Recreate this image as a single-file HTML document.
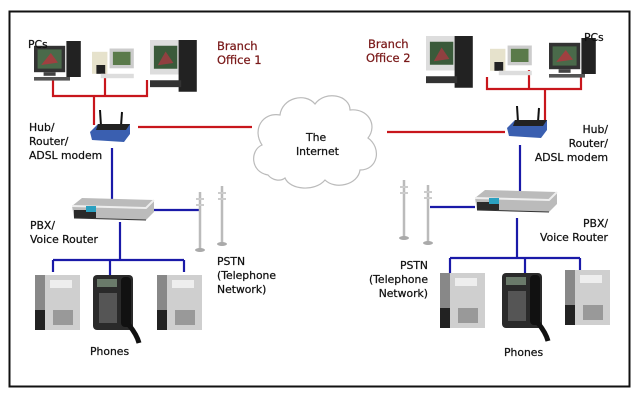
<!DOCTYPE html>
<html><head><meta charset="utf-8"><style>
html,body{margin:0;padding:0;background:#fff;width:640px;height:400px;overflow:hidden}
svg{display:block}
text{font-family:"DejaVu Sans","Liberation Sans",sans-serif;font-size:10.8px;fill:#111;stroke:#111;stroke-width:0.25}
.br{fill:#7a1a1a;stroke:#7a1a1a;font-size:11.5px}
</style></head><body>
<svg width="640" height="400" viewBox="0 0 640 400">
<defs>
<g id="pc">
 <rect x="0" y="4" width="26" height="22" fill="#333"/>
 <rect x="3" y="7" width="20" height="16" fill="#4a6a4a"/>
 <path d="M6 20 L14 10 L20 18 Z" fill="#a04040"/>
 <rect x="27" y="0" width="12" height="30" fill="#222"/>
 <rect x="8" y="26" width="10" height="3" fill="#444"/>
 <rect x="0" y="30" width="30" height="3" fill="#555"/>
</g>
<g id="pcb">
 <rect x="0" y="0" width="32" height="30" fill="#ddd"/>
 <rect x="22" y="0" width="14" height="45" fill="#222"/>
 <rect x="3" y="5" width="18" height="20" fill="#3a5a3a"/>
 <path d="M6 22 L12 10 L18 20 Z" fill="#904040"/>
 <rect x="0" y="35" width="24" height="6" fill="#333"/>
</g>
<g id="pcc">
 <rect x="0" y="8" width="14" height="20" fill="#e6e2cc"/>
 <rect x="16" y="5" width="22" height="18" fill="#ccc"/>
 <rect x="19" y="8" width="16" height="12" fill="#5a7a4a"/>
 <rect x="4" y="20" width="8" height="8" fill="#222"/>
 <rect x="8" y="28" width="30" height="4" fill="#ddd"/>
</g>
<g id="router">
 <line x1="12" y1="0" x2="13" y2="16" stroke="#111" stroke-width="2"/>
 <line x1="34" y1="2" x2="33" y2="16" stroke="#111" stroke-width="2"/>
 <path d="M2 22 L10 14 L42 14 L42 24 L36 32 L4 30 Z" fill="#3a5fb0"/>
 <path d="M10 14 L42 14 L38 20 L8 20 Z" fill="#222"/>
</g>
<g id="pbx">
 <path d="M0 8 L10 0 L82 2 L82 14 L74 22 L2 20 Z" fill="#bbb"/>
 <path d="M0 8 L74 10 L82 2" fill="none" stroke="#eee" stroke-width="2"/>
 <rect x="2" y="12" width="22" height="8" fill="#2a2a2a"/>
 <rect x="14" y="8" width="10" height="6" fill="#2aa0c0"/>
 <line x1="2" y1="20" x2="74" y2="22" stroke="#333"/>
</g>
<g id="pole">
 <line x1="4" y1="0" x2="4" y2="58" stroke="#bbb" stroke-width="2.5"/>
 <rect x="0" y="6" width="8" height="2" fill="#ccc"/><rect x="0" y="12" width="8" height="2" fill="#ccc"/>
 <ellipse cx="4" cy="58" rx="5" ry="2" fill="#aaa"/>
</g>
<g id="phg">
 <rect x="0" y="0" width="45" height="55" fill="#cfcfcf"/>
 <rect x="0" y="0" width="10" height="55" fill="#888"/>
 <rect x="0" y="35" width="10" height="20" fill="#222"/>
 <rect x="15" y="5" width="22" height="8" fill="#eee"/>
 <rect x="18" y="35" width="20" height="15" fill="#999"/>
</g>
<g id="phb">
 <rect x="0" y="0" width="40" height="55" rx="4" fill="#2a2a2a"/>
 <rect x="4" y="4" width="20" height="8" fill="#6a7a6a"/>
 <rect x="28" y="2" width="10" height="50" rx="4" fill="#111"/>
 <rect x="6" y="18" width="18" height="30" fill="#555"/>
 <path d="M36 50 Q44 60 46 68" stroke="#111" stroke-width="5" fill="none"/>
</g>
</defs>
<rect x="9.5" y="11.5" width="620" height="375" fill="none" stroke="#111" stroke-width="2"/>

<!-- LEFT -->
<g stroke="#c8161c" stroke-width="2.2" fill="none">
 <path d="M53 78 V96 H147 V80 M105 73 V96 M94 96 V125 M138 127 H252"/>
</g>
<use href="#pc" transform="translate(34,41) scale(1.2)"/>
<use href="#pcc" transform="translate(92,43) scale(1.1)"/>
<use href="#pcb" transform="translate(150,40) scale(1.3,1.15)"/>
<g stroke="#1a1aa8" stroke-width="2.2" fill="none">
 <path d="M112 148 V200 M153 210 H200 M120 222 V260 M53 260 H184 M53 260 V272 M110 260 V275 M184 260 V272"/>
</g>
<use href="#router" x="88" y="110"/>
<use href="#pbx" x="72" y="198"/>
<use href="#pole" x="196" y="192"/>
<use href="#pole" x="218" y="186"/>
<use href="#phg" x="35" y="275"/>
<use href="#phb" x="93" y="275"/>
<use href="#phg" x="157" y="275"/>
<text x="28" y="48">PCs</text>
<text class="br" x="217" y="50">Branch</text>
<text class="br" x="217" y="64">Office 1</text>
<text x="29" y="131">Hub/</text>
<text x="29" y="145">Router/</text>
<text x="29" y="159">ADSL modem</text>
<text x="30" y="229">PBX/</text>
<text x="30" y="243">Voice Router</text>
<text x="217" y="265">PSTN</text>
<text x="217" y="279">(Telephone</text>
<text x="217" y="293">Network)</text>
<text x="90" y="355">Phones</text>

<!-- CLOUD -->
<path d="M268 175 C250 172 250 150 262 145 C252 130 262 112 280 115 C282 98 305 92 315 104 C325 90 350 95 350 110 C368 108 378 125 368 138 C382 148 378 170 360 170 C358 185 335 190 325 180 C315 192 290 190 285 178 C280 182 272 180 268 175 Z" fill="#fff" stroke="#bbb" stroke-width="1.2"/>
<text x="306" y="141">The</text>
<text x="296" y="155">Internet</text>

<!-- RIGHT -->
<g stroke="#c8161c" stroke-width="2.2" fill="none">
 <path d="M487 77 V89 H581 V75 M529 70 V89 M545 89 V128 M387 132 H505"/>
</g>
<use href="#pcb" transform="translate(426,36) scale(1.3,1.15)"/>
<use href="#pcc" transform="translate(490,40) scale(1.1)"/>
<use href="#pc" transform="translate(549,38) scale(1.2)"/>
<g stroke="#1a1aa8" stroke-width="2.2" fill="none">
 <path d="M520 145 V195 M430 207 H475 M517 218 V258 M450 258 H580 M450 258 V273 M525 258 V273 M580 258 V272"/>
</g>
<use href="#router" x="505" y="106"/>
<use href="#pbx" x="475" y="190"/>
<use href="#pole" x="400" y="180"/>
<use href="#pole" x="424" y="185"/>
<use href="#phg" x="440" y="273"/>
<use href="#phb" x="502" y="273"/>
<use href="#phg" x="565" y="270"/>
<text x="584" y="41">PCs</text>
<text class="br" x="368" y="48">Branch</text>
<text class="br" x="366" y="62">Office 2</text>
<g text-anchor="end">
<text x="608" y="133">Hub/</text>
<text x="608" y="147">Router/</text>
<text x="608" y="161">ADSL modem</text>
<text x="608" y="227">PBX/</text>
<text x="608" y="241">Voice Router</text>
<text x="428" y="269">PSTN</text>
<text x="428" y="283">(Telephone</text>
<text x="428" y="297">Network)</text>
</g>
<text x="504" y="356">Phones</text>
</svg>
</body></html>
